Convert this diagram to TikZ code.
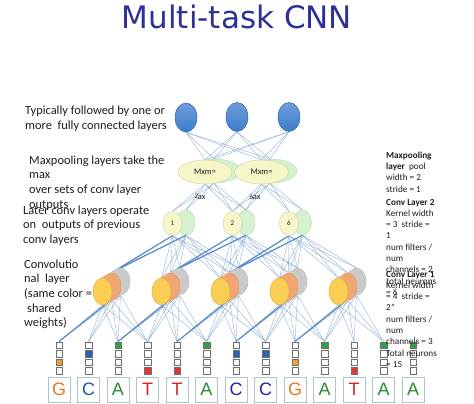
\documentclass[tikz,border=0pt]{standalone}
\usepackage{fontspec}
\setmainfont{Carlito}
\newfontfamily\titlefont{DejaVu Sans}
\newfontfamily\letterfont{Liberation Sans}
\usetikzlibrary{shapes.geometric,backgrounds}
\definecolor{titleblue}{RGB}{45,48,150}
\definecolor{linkblue}{RGB}{135,170,212}
\definecolor{thickblue}{RGB}{90,140,202}
\definecolor{fcfill}{RGB}{60,125,205}
\definecolor{fcdraw}{RGB}{50,100,165}
\definecolor{mpyellow}{RGB}{246,246,200}
\definecolor{mpydraw}{RGB}{205,212,160}
\definecolor{mpgreen}{RGB}{212,242,205}
\definecolor{mpgdraw}{RGB}{180,218,172}
\definecolor{cyyellow}{RGB}{250,205,85}
\definecolor{cyydraw}{RGB}{222,178,60}
\definecolor{cyorange}{RGB}{240,165,115}
\definecolor{cyodraw}{RGB}{215,140,95}
\definecolor{cygray}{RGB}{202,202,202}
\definecolor{cygdraw}{RGB}{175,175,175}
\definecolor{sqgreen}{RGB}{50,160,70}
\definecolor{sqblue}{RGB}{40,100,180}
\definecolor{sqorange}{RGB}{240,160,50}
\definecolor{sqred}{RGB}{225,55,55}
\definecolor{sqdraw}{RGB}{110,110,110}
\definecolor{lA}{RGB}{40,140,50}
\definecolor{lC}{RGB}{30,90,165}
\definecolor{lCC}{RGB}{35,35,175}
\definecolor{lG}{RGB}{225,120,30}
\definecolor{lT}{RGB}{215,35,35}
\definecolor{boxgray}{RGB}{175,195,205}
\definecolor{textgray}{RGB}{30,30,30}
\tikzset{
  fcnode/.style={ellipse, minimum width=22pt, minimum height=29pt, inner sep=0pt,
    draw=fcdraw, line width=0.5pt, top color=fcfill!75!white, bottom color=fcfill},
  mpfront/.style={ellipse, minimum width=54pt, minimum height=24pt, inner sep=0pt,
    draw=mpydraw, line width=0.4pt, fill=mpyellow, font=\fontsize{8.5}{8.5}\selectfont, text=textgray},
  mpback/.style={ellipse, minimum width=54pt, minimum height=24pt, inner sep=0pt,
    draw=mpgdraw, line width=0.4pt, fill=mpgreen},
  ctwoy/.style={ellipse, minimum width=19pt, minimum height=24pt, inner sep=0pt,
    draw=mpydraw, line width=0.4pt, fill=mpyellow, font=\fontsize{7}{7}\selectfont, text=textgray},
  ctwog/.style={ellipse, minimum width=18pt, minimum height=25pt, inner sep=0pt,
    draw=mpgdraw, line width=0.4pt, fill=mpgreen},
  disc/.style={ellipse, minimum width=19pt, minimum height=27pt, inner sep=0pt, line width=0.4pt},
  link/.style={draw=linkblue, line width=0.35pt},
  thicklink/.style={draw=thickblue, line width=1.1pt},
  sq/.style={draw=sqdraw, line width=0.4pt, minimum size=6.5pt, inner sep=0pt},
  letterbox/.style={draw=boxgray, line width=0.6pt, minimum width=22pt, minimum height=25pt,
    inner sep=0pt, fill=white, font=\letterfont\fontsize{18}{18}\selectfont},
  lefttext/.style={anchor=base west, align=left, inner sep=0pt, text=textgray,
    font=\fontsize{12.4}{14.7}\selectfont},
  righttext/.style={anchor=base west, align=left, inner sep=0pt, text=textgray,
    font=\fontsize{9.2}{11.3}\selectfont},
  smalllabel/.style={inner sep=0pt, text=textgray, font=\fontsize{8.5}{8.5}\selectfont}
}
\begin{document}
\begin{tikzpicture}[x=1pt,y=-1pt]
\useasboundingbox (0,0) rectangle (474,404);

% title
\node[anchor=base, inner sep=0pt, text=titleblue, font=\titlefont\fontsize{31}{31}\selectfont] (title) at (237,28.3) {Multi-task CNN};

% fully connected layer
\foreach \i/\x/\y in {0/186/117.5,1/237/117,2/289/117}
  \node[fcnode] (f\i) at (\x,\y) {};

% maxpooling layer
\node[mpback] (pb0) at (214,171) {};
\node[mpfront] (pf0) at (205,172) {Mxm=};
\node[mpback] (pb1) at (270,171) {};
\node[mpfront] (pf1) at (261.5,172) {Mxm=};
\node[smalllabel] (lab2) at (200,197) {\raisebox{0.6pt}{\fontsize{7}{7}\selectfont 2}\kern-0.3pt ax};
\node[smalllabel] (lab6) at (255,197) {\raisebox{0.6pt}{\fontsize{7}{7}\selectfont 6}\kern-0.3pt ax};

% conv layer 2
\foreach \j/\x/\t in {0/172.5/1,1/232.5/2,2/289/6}{
  \node[ctwog] (m\j) at ({\x+13.5},222.5) {};
  \node[ctwoy] (n\j) at (\x,223.5) {\t};
}

% conv layer 1 (cylinders)
\foreach \i in {0,...,4}{
  \pgfmathsetmacro\cx{102.5+59*\i}
  \node[disc, draw=cygdraw, fill=cygray] (cg\i) at ({\cx+18},281.5) {};
  \foreach \t in {0,0.1,...,1.001}
    \fill[cygray] ({\cx+18-9*\t},{281.5+5*\t}) ellipse [x radius=9.3pt, y radius=13.3pt];
  \node[disc, draw=cyodraw, fill=cyorange] (co\i) at ({\cx+9},286.5) {};
  \foreach \t in {0,0.1,...,1.001}
    \fill[cyorange] ({\cx+9-9*\t},{286.5+5*\t}) ellipse [x radius=9.3pt, y radius=13.3pt];
  \node[disc, draw=cyydraw, fill=cyyellow] (cy\i) at (\cx,291.5) {};
}

% input one-hot squares and letters
\foreach \c/\L/\k/\lc in {0/G/2/lG,1/C/1/lC,2/A/0/lA,3/T/3/lT,4/T/3/lT,5/A/0/lA,6/C/1/lCC,7/C/1/lCC,8/G/2/lG,9/A/0/lA,10/T/3/lT,11/A/0/lA,12/A/0/lA}{
  \pgfmathsetmacro\lx{59+29.5*\c}
  \foreach \r/\sc in {0/sqgreen,1/sqblue,2/sqorange,3/sqred}{
    \ifnum\r=\k\relax \def\sqf{\sc}\else \def\sqf{white}\fi
    \node[sq, fill=\sqf] (s\c-\r) at (\lx,{345+8.5*\r}) {};
  }
  \node[letterbox, text=\lc] (b\c) at (\lx,389.5) {\L};
}

% connectors
\begin{scope}[on background layer]
  \fill[white] (0,0) rectangle (474,404);
  % FC -> maxpool
  \foreach \i in {0,1,2}
    \foreach \k in {0,1}
      \foreach \p in {pf,pb}
        \draw[link] (f\i.south) -- (\p\k.north);
  % maxpool -> conv 2
  \foreach \k in {0,1}
    \foreach \p in {pf,pb}
      \foreach \dj in {0,1}
        \foreach \s in {n,m}{
          \pgfmathtruncatemacro\jj{\k+\dj}
          \draw[link] (\p\k.south) -- (\s\jj.north);
        }
  % conv 2 -> conv 1
  \foreach \j in {0,1,2}
    \foreach \s in {n,m}
      \foreach \dk in {0,1,2}
        \foreach \d in {cg,co,cy}{
          \pgfmathtruncatemacro\kk{\j+\dk}
          \draw[link] (\s\j.south) -- (\d\kk.north);
        }
  \foreach \j in {0,1,2}{
    \draw[thicklink] (n\j.south) -- (co\j.north);
    \draw[thicklink] (m\j.south) -- (cg\j.north);
  }
  % conv 1 -> input
  \foreach \i in {0,...,4}
    \foreach \d in {cg,co,cy}
      \foreach \dc in {0,...,3}{
        \pgfmathtruncatemacro\col{2*\i+\dc}
        \draw[link] (\d\i.south) -- (s\col-0.north);
      }
  \foreach \i in {0,...,4}{
    \pgfmathtruncatemacro\col{2*\i}
    \draw[thicklink] (s\col-0.north) -- (cy\i.south east);
  }
\end{scope}

% left texts (anchor = baseline of the last line)
\node[lefttext] (t1) at (25,129) {Typically followed by one or\\more\ \ fully connected layers};
\node[lefttext] (t2) at (29,208.1) {Maxpooling layers take the\\max\\over sets of conv layer\\outputs};
\node[lefttext] (t3) at (23,243.4) {Later conv layers operate\\on\ \ outputs of previous\\conv layers};
\node[lefttext] (t4) at (24,326.8) {Convolutio\\nal\ \ layer\\(same color =\\\hspace*{3pt}shared\\weights)};

% right texts (anchor = baseline of the last line)
\node[righttext] (r1) at (386,192.2) {\textbf{Maxpooling}\\\textbf{layer}\ \ pool\\width = 2\\stride = 1};
\node[righttext] (r2) at (386,295.4) {\textbf{Conv Layer 2}\\Kernel width\\= 3\ \ stride =\\1\\num filters /\\num\\channels = 2\\total neurons\\= 6};
\node[righttext] (r3) at (386,367.4) {\textbf{Conv Layer 1}\\Kernel width\\= 4\ \ stride =\\2*\\num filters /\\num\\channels = 3\\Total neurons\\= 15};
\end{tikzpicture}
\end{document}
